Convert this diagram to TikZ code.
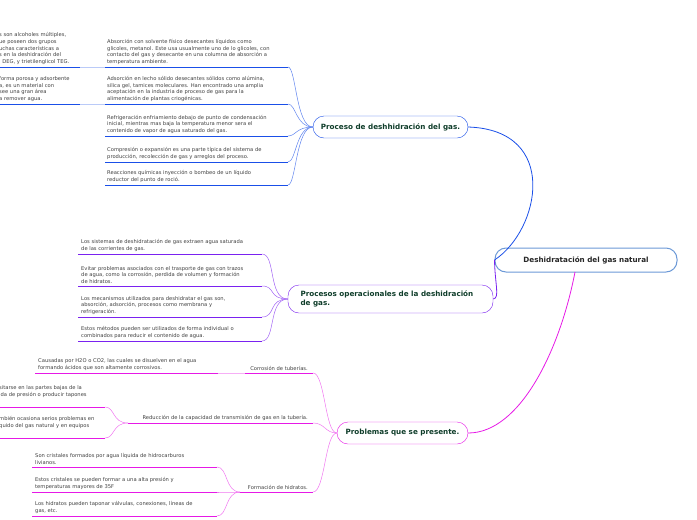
\documentclass[tikz,border=0pt]{standalone}
\usepackage{fontspec}
\setmainfont{DejaVu Sans}
\definecolor{bc}{HTML}{1A4FE8}
\definecolor{pc}{HTML}{7A22F0}
\definecolor{mc}{HTML}{E619E6}
\definecolor{tc}{HTML}{0F3D2A}
\begin{document}
\begin{tikzpicture}[x=1pt,y=-1pt,
 txt/.style={anchor=south west,align=left,font=\fontsize{5.2}{6.8}\selectfont,text=black!75,inner sep=1pt},
 lbl/.style={draw=bc,line width=1pt},
 lpu/.style={draw=pc,line width=1pt},
 lmg/.style={draw=mc,line width=1pt},
 conb/.style={draw=bc!70,line width=0.5pt},
 conp/.style={draw=pc!70,line width=0.5pt},
 conm/.style={draw=mc!60,line width=0.5pt},
 mainbox/.style={draw,rounded corners=11pt,fill=white,font=\fontsize{7.2}{8.7}\selectfont\bfseries,text=tc,align=left,inner sep=0pt}]
\useasboundingbox (0,0) rectangle (697,520);
\clip (0,0) rectangle (697,520);
\node[mainbox,draw=cyan!50!blue!60,line width=1pt,minimum width=182pt,minimum height=24pt,text=black!85] (c) at (586,260) {Deshidratación del gas natural};
\node[mainbox,draw=bc,minimum width=155pt,minimum height=22pt] (b1) at (390.5,127) {Proceso de deshhidración del gas.};
\node[mainbox,draw=pc,minimum width=205pt,minimum height=28pt] (b2) at (390.5,299) {\parbox{180pt}{\raggedright Procesos operacionales de la deshidración\\de gas.}};
\node[mainbox,draw=mc,minimum width=131pt,minimum height=22pt] (b3) at (402.5,433) {Problemas que se presente.};
\draw[bc,line width=0.8pt] (c.west) .. controls (540,230) and (560,130) .. (b1.east);
\draw[pc,line width=0.8pt] (c.west) .. controls (495,285) and (500,298) .. (b2.east);
\draw[mc,line width=0.8pt] (575,272) .. controls (560,350) and (520,433) .. (b3.east);
\foreach \y/\t in {67/{Absorción con solvente físico desecantes líquidos como\\glicoles, metanol. Este usa usualmente uno de lo glicoles, con\\contacto del gas y desecante en una columna de absorción a\\temperatura ambiente.},
104/{Adsorción en lecho sólido desecantes sólidos como alúmina,\\silica gel, tamices moleculares. Han encontrado una amplia\\aceptación en la industria de proceso de gas para la\\alimentación de plantas criogénicas.},
136/{Refrigeración enfriamiento debajo de punto de condensación\\inicial, mientras mas baja la temperatura menor sera el\\contenido de vapor de agua saturado del gas.},
162/{Compresión o expansión es una parte típica del sistema de\\producción, recolección de gas y arreglos del proceso.},
185/{Reacciones químicas inyección o bombeo de un líquido\\reductor del punto de roció.}}{
 \coordinate (r) at (288,\y);
 \draw[lbl] (105,\y) -- (r);
 \node[txt] at (106,\y-1) {\t};
 \draw[conb] (r) .. controls (296,\y) and (296,127) .. (b1.west);
}
\draw[lbl] (0,67) -- (80,67); \draw[lbl] (0,104) -- (80,104);
\draw[bc!30,line width=0.8pt] (80,67) -- (105,67); \draw[bc!30,line width=0.8pt] (80,104) -- (105,104);
\node[txt] at (-2,66) {s son alcoholes múltiples,\\ue poseen dos grupos\\uchas características a\\s en la deshidración del\\l DEG, y trietilenglicol TEG.};
\node[txt] at (-2,103) {forma porosa y adsorbente\\a, es un material con\\see una gran área\\a remover agua.};
\foreach \y/\t in {254/{Los sistemas de deshidratación de gas extraen agua saturada\\de las corrientes de gas.},
286/{Evitar problemas asociados con el trasporte de gas con trazos\\de agua, como la corrosión, perdida de volumen y formación\\de hidratos.},
317/{Los mecanismos utilizados para deshidratar el gas son,\\absorción, adsorción, procesos como membrana y\\refrigeración.},
341/{Estos métodos pueden ser utilizados de forma individual o\\combinados para reducir el contenido de agua.}}{
 \coordinate (r) at (262,\y);
 \draw[lpu] (78,\y) -- (r);
 \node[txt] at (80,\y-1) {\t};
 \draw[conp] (r) .. controls (276,\y) and (268,299) .. (b2.west);
}
\coordinate (k1) at (313,373); \coordinate (k2) at (313,423); \coordinate (k3) at (313,492);
\draw[lmg] (245,373) -- (k1); \node[txt,anchor=south east] at (309,372) {Corrosión de tuberías.};
\draw[lmg] (128,423) -- (k2); \node[txt,anchor=south east] at (309,422) {Reducción de la capacidad de transmisión de gas en la tubería.};
\draw[lmg] (240,492) -- (k3); \node[txt,anchor=south east] at (309,491) {Formación de hidratos.};
\draw[conm] (k1) .. controls (325,373) and (325,433) .. (b3.west);
\draw[conm] (k2) .. controls (325,423) and (325,433) .. (b3.west);
\draw[conm] (k3) .. controls (325,492) and (325,433) .. (b3.west);
\draw[lmg] (35,373) -- (218,373); \draw[mc!35,line width=0.8pt] (218,373) -- (245,373);
\node[txt] at (37,372) {Causadas por H2O o CO2, las cuales se disuelven en el agua\\formando ácidos que son altamente corrosivos.};
\draw[lmg] (0,407) -- (105,407); \draw[lmg] (0,438) -- (105,438);
\draw[conm] (105,407) .. controls (115,407) and (112,423) .. (128,423);
\draw[conm] (105,438) .. controls (115,438) and (112,423) .. (128,423);
\node[txt] at (-2,399) {sitarse en las partes bajas de la\\ida de presión o producir tapones};
\node[txt] at (-2,430) {mbién ocasiona serios problemas en\\quido del gas natural y en equipos};
\foreach \y/\t in {467/{Son cristales formados por agua líquida de hidrocarburos\\livianos.},
492/{Estos cristales se pueden formar a una alta presión y\\temperaturas mayores de 35F},
516/{Los hidratos pueden taponar válvulas, conexiones, líneas de\\gas, etc.}}{
 \coordinate (r) at (217,\y);
 \draw[lmg] (32,\y) -- (r);
 \node[txt] at (34,\y-1) {\t};
 \draw[conm] (r) .. controls (228,\y) and (225,492) .. (240,492);
}
\end{tikzpicture}
\end{document}
